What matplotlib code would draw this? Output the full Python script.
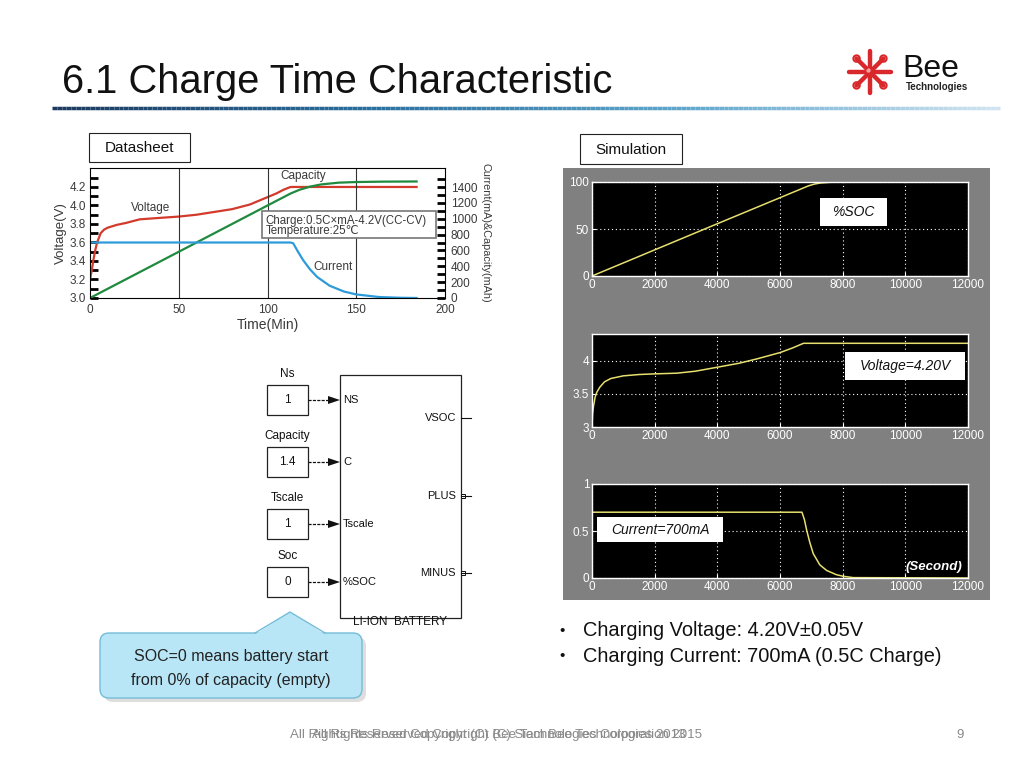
import matplotlib
matplotlib.use('Agg')
import matplotlib.pyplot as plt
from matplotlib.patches import Rectangle, FancyBboxPatch, Polygon, Circle
from matplotlib.collections import LineCollection
from matplotlib import font_manager
import numpy as np

# ---- datasheet curves (time in minutes) ----
ds_volt_t = [0, 1, 2, 3, 4, 6, 8, 10, 15, 20, 28, 35, 50, 60, 70, 80, 90, 100, 105, 109, 113, 150, 184]
ds_volt_v = [3.20, 3.30, 3.42, 3.52, 3.60, 3.70, 3.74, 3.76, 3.79, 3.81, 3.85, 3.86, 3.88, 3.90,
             3.93, 3.96, 4.01, 4.09, 4.13, 4.17, 4.20, 4.20, 4.20]
ds_cap_t = [0, 50, 100, 113, 118, 124, 130, 140, 150, 165, 184]
ds_cap_mah = [0, 583, 1167, 1318, 1365, 1405, 1432, 1455, 1463, 1468, 1470]
ds_cur_t = [0, 113, 114.5, 117, 120, 124, 128, 135, 143, 150, 163, 175, 184]
ds_cur_ma = [700, 700, 690, 590, 480, 360, 265, 155, 82, 45, 12, 3, 0]

# ---- simulation curves (time in seconds) ----
sim_soc_t = [0, 2000, 4000, 6000, 6700, 6900, 7100, 7300, 7600, 8000, 12000]
sim_soc = [0, 27.8, 55.6, 83.3, 93.0, 95.8, 97.8, 99.0, 99.7, 100, 100]
sim_v_t = [0, 20, 50, 100, 150, 250, 400, 600, 1000, 1500, 2000, 2700, 3300, 4000, 4700,
           5300, 6000, 6400, 6750, 12000]
sim_v = [3.0, 3.2, 3.32, 3.45, 3.52, 3.6, 3.68, 3.73, 3.77, 3.79, 3.80, 3.81, 3.84, 3.90,
         3.96, 4.03, 4.12, 4.19, 4.26, 4.26]
sim_i_t = [0, 6700, 6780, 6850, 6950, 7060, 7270, 7490, 7800, 8020, 8340, 12000]
sim_i = [0.70, 0.70, 0.62, 0.51, 0.38, 0.26, 0.14, 0.08, 0.035, 0.018, 0.004, 0.0]

block_labels = ['Ns', 'Capacity', 'Tscale', 'Soc']
block_values = ['1', '1.4', '1', '0']
block_ports = ['NS', 'C', 'Tscale', '%SOC']
out_ports = ['VSOC', 'PLUS', 'MINUS']
bullets = ['Charging Voltage: 4.20V\u00b10.05V', 'Charging Current: 700mA (0.5C Charge)']

names = {f.name for f in font_manager.fontManager.ttflist}
NARROW = 'Liberation Sans Narrow' if 'Liberation Sans Narrow' in names else 'Liberation Sans'
plt.rcParams['font.family'] = ['Liberation Sans', 'DejaVu Sans']

W, H = 1024, 768
fig = plt.figure(figsize=(10.24, 7.68), dpi=100)


def px_axes(x0, y0, x1, y1, **kw):
    return fig.add_axes([x0 / W, 1 - y1 / H, (x1 - x0) / W, (y1 - y0) / H], **kw)


bg = fig.add_axes([0, 0, 1, 1])
bg.set_xlim(0, W)
bg.set_ylim(H, 0)
bg.axis('off')

# title + gradient rule
bg.text(62, 93, '6.1 Charge Time Characteristic', fontsize=28.7, va='baseline', color='#111')
xs = np.linspace(52, 1000, 200)
segs = [[(xs[i], 108), (xs[i + 1], 108)] for i in range(len(xs) - 1)]
cmap = matplotlib.colors.LinearSegmentedColormap.from_list('rule', ['#1c3a60', '#2a6f9e', '#5fa6cc', '#cfe3f0'])
bg.add_collection(LineCollection(segs, colors=cmap(np.linspace(0, 1, len(segs))), linewidths=2.5))

# logo
cx, cy = 870, 72
for ang in range(0, 360, 45):
    a = np.deg2rad(ang)
    r = 21 if ang % 90 == 0 else 19
    bg.plot([cx + 6 * np.cos(a), cx + r * np.cos(a)], [cy - 6 * np.sin(a), cy - r * np.sin(a)],
            color='#d9282b', lw=3.2, solid_capstyle='round')
    if ang % 90 != 0:
        bg.add_patch(Circle((cx + r * np.cos(a), cy - r * np.sin(a)), 3.2, fc='white', ec='#d9282b', lw=1.5))
bg.add_patch(Circle((cx, cy), 6, fc='#d9282b', ec='none'))
bg.add_patch(Circle((cx - 1.5, cy - 1.5), 2.2, fc='#f5a0a0', ec='none'))
bg.text(902, 77, 'Bee', fontsize=23, va='baseline', color='#111')
bg.text(906, 90, 'Technologies', fontsize=7, fontweight='bold', va='baseline', color='#222')

# section boxes
for (x0, y0, x1, y1, txt) in [(89, 133, 190, 162, 'Datasheet'), (580, 134, 682, 164, 'Simulation')]:
    bg.add_patch(Rectangle((x0, y0), x1 - x0, y1 - y0, fc='white', ec='#222', lw=0.8))
    bg.text((x0 + x1) / 2, (y0 + y1) / 2 + 1, txt, fontsize=11, ha='center', va='center', color='#111')

# simulation gray panel
bg.add_patch(Rectangle((563, 168), 427, 432, fc='#808080', ec='none'))

# block diagram
bg.add_patch(Rectangle((340, 375), 121, 243, fc='white', ec='#222', lw=0.9))
box_tops = [385, 447, 509, 567]
for top, lab, val, port in zip(box_tops, block_labels, block_values, block_ports):
    bg.add_patch(Rectangle((267, top), 41, 30, fc='white', ec='#222', lw=0.9))
    bg.text(287.5, top - 11, lab, fontsize=8.5, ha='center', va='center', color='#111')
    bg.text(287.5, top + 15, val, fontsize=8.5, ha='center', va='center', color='#111')
    yc = top + 15
    bg.plot([308, 329], [yc, yc], color='#111', lw=0.9, ls=(0, (2.5, 1)))
    bg.add_patch(Polygon([(328, yc - 4), (340, yc), (328, yc + 4)], fc='#111', ec='none'))
    bg.text(343, yc, port, fontsize=8, ha='left', va='center', color='#111')
for yp, port in zip([418, 496, 573], out_ports):
    bg.text(456, yp, port, fontsize=8, ha='right', va='center', color='#111')
    bg.plot([461, 471], [yp, yp], color='#111', lw=0.8)
    if port != 'VSOC':
        bg.add_patch(Rectangle((461, yp - 2), 4, 4, fc='white', ec='#111', lw=0.7))
bg.text(400, 622, 'LI-ION  BATTERY', fontsize=8.5, ha='center', va='center', color='#111')

# callout
bg.add_patch(FancyBboxPatch((104, 637), 262, 65, boxstyle='round,pad=0,rounding_size=9',
                            fc='#c9c9c9', ec='none', alpha=0.6))
bg.add_patch(FancyBboxPatch((100, 633), 262, 65, boxstyle='round,pad=0,rounding_size=9',
                            fc='#b9e6f6', ec='#74bcd9', lw=1))
bg.add_patch(Polygon([(255, 634.5), (290, 612), (325, 634.5)], fc='#b9e6f6', ec='none'))
bg.plot([255, 290, 325], [633, 612, 633], color='#74bcd9', lw=1)
bg.text(231, 657, 'SOC=0 means battery start', fontsize=11.5, ha='center', va='center', color='#222')
bg.text(231, 681, 'from 0% of capacity (empty)', fontsize=11.5, ha='center', va='center', color='#222')

# bullets
for yb, txt in zip([631, 656], bullets):
    bg.text(562, yb, '\u2022', fontsize=11, ha='center', va='center', color='#111')
    bg.text(583, yb, txt, fontsize=14.4, ha='left', va='center', color='#111')

# footer (two overlapping copyright lines, as on the slide)
bg.text(290, 735, 'All Rights Reserved Copyright (C) Bee Technologies Corporation 2015',
        fontsize=9.5, va='center', color='#8a8a8a')
bg.text(312, 735, 'All Rights Reserved Copyright (C) Siam Bee Technologies 2013',
        fontsize=9.5, va='center', color='#8a8a8a')
bg.text(960, 735, '9', fontsize=9.5, ha='center', va='center', color='#8a8a8a')

# ---- datasheet chart ----
txt_c = '#3a3a3a'
ax = px_axes(90, 168, 445, 298)
ax.plot(ds_volt_t, ds_volt_v, color='#d23a2c', lw=1.6)
ax.set_xlim(0, 200)
ax.set_ylim(3.0, 4.405)
for xv in [50, 100, 150]:
    ax.axvline(xv, color='#333', lw=0.8)
ax.set_xticks([0, 50, 100, 150, 200])
ax.set_yticks([3.0, 3.2, 3.4, 3.6, 3.8, 4.0, 4.2])
ax.set_yticklabels(['3.0', '3.2', '3.4', '3.6', '3.8', '4.0', '4.2'])
ax.set_yticks(np.arange(3.1, 4.35, 0.2), minor=True)
ax.tick_params(axis='y', which='both', direction='in', length=5.5, width=2, pad=3,
               labelsize=8.5, labelcolor=txt_c)
ax.tick_params(axis='x', length=0, pad=4, labelsize=8.5, labelcolor=txt_c)
ax.set_xlabel('Time(Min)', fontsize=10, color=txt_c, labelpad=2)
ax.set_ylabel('Voltage(V)', fontsize=9.5, color=txt_c, labelpad=2)
for sp in ax.spines.values():
    sp.set_linewidth(0.7)
    sp.set_color('#222')
ax2 = ax.twinx()
ax2.plot(ds_cap_t, ds_cap_mah, color='#1f8a3e', lw=1.6)
ax2.plot(ds_cur_t, ds_cur_ma, color='#2d9bd9', lw=1.6)
ax2.set_ylim(0, 1640)
ax2.set_yticks(range(0, 1401, 200))
ax2.set_yticks(range(100, 1600, 200), minor=True)
ax2.tick_params(axis='y', which='both', direction='in', length=5.5, width=2, pad=4,
                labelsize=8.5, labelcolor=txt_c)
ax2.set_ylabel('Current(mA)&Capacity(mAh)', fontsize=7.8, color=txt_c, rotation=270, labelpad=10)
ax.text(34, 3.975, 'Voltage', fontsize=8.5, ha='center', va='center', color=txt_c)
ax.text(120, 4.32, 'Capacity', fontsize=8.5, ha='center', va='center', color=txt_c)
ax.text(137, 3.34, 'Current', fontsize=8.5, ha='center', va='center', color=txt_c)
ax.add_patch(Rectangle((97, 3.645), 98, 0.295, fc='white', ec='#777', lw=1.2, zorder=5))
ax.text(99, 3.835, 'Charge:0.5C\u00d7mA-4.2V(CC-CV)', fontsize=8.3, va='center', color=txt_c, zorder=6)
ax.text(99, 3.725, 'Temperature:25\u2103', fontsize=8.3, va='center', color=txt_c, zorder=6)

# ---- simulation scopes ----
yel = '#e6df6e'
scopes = [
    ((182, 276), sim_soc_t, sim_soc, (0, 100), [0, 50, 100], ['0', '50', '100']),
    ((334, 427), sim_v_t, sim_v, (3, 4.4), [3, 3.5, 4], ['3', '3.5', '4']),
    ((484, 578), sim_i_t, sim_i, (0, 1), [0, 0.5, 1], ['0', '0.5', '1']),
]
for (y0, y1), tt, vv, ylim, yt, ytl in scopes:
    sa = px_axes(592, y0, 968, y1, facecolor='black')
    sa.plot(tt, vv, color=yel, lw=1.1)
    sa.set_xlim(0, 12000)
    sa.set_ylim(*ylim)
    sa.set_xticks(range(0, 12001, 2000))
    sa.set_xticklabels([str(v) for v in range(0, 12001, 2000)], family=[NARROW, 'DejaVu Sans'])
    sa.set_yticks(yt)
    sa.set_yticklabels(ytl, family=[NARROW, 'DejaVu Sans'])
    sa.grid(True, color='white', ls=(0, (1, 2.5)), lw=0.8)
    sa.tick_params(direction='in', length=3, color='white', labelcolor='white', labelsize=8.5, pad=2)
    for sp in sa.spines.values():
        sp.set_color('white')
        sp.set_linewidth(1)

# ---- overlay labels on scopes ----
top = fig.add_axes([0, 0, 1, 1], facecolor='none')
top.set_xlim(0, W)
top.set_ylim(H, 0)
top.axis('off')
for (x0, y0, x1, y1, txt) in [(820, 198, 887, 226, '%SOC'), (845, 352, 965, 380, 'Voltage=4.20V'),
                              (597, 517, 723, 542, 'Current=700mA')]:
    top.add_patch(Rectangle((x0, y0), x1 - x0, y1 - y0, fc='white', ec='none'))
    top.text((x0 + x1) / 2, (y0 + y1) / 2, txt, fontsize=10, style='italic', ha='center', va='center',
             color='#111')
top.text(962, 567, '(Second)', fontsize=9.5, style='italic', fontweight='bold', ha='right', va='center',
         color='white')

fig.savefig('out.png', dpi=100)
